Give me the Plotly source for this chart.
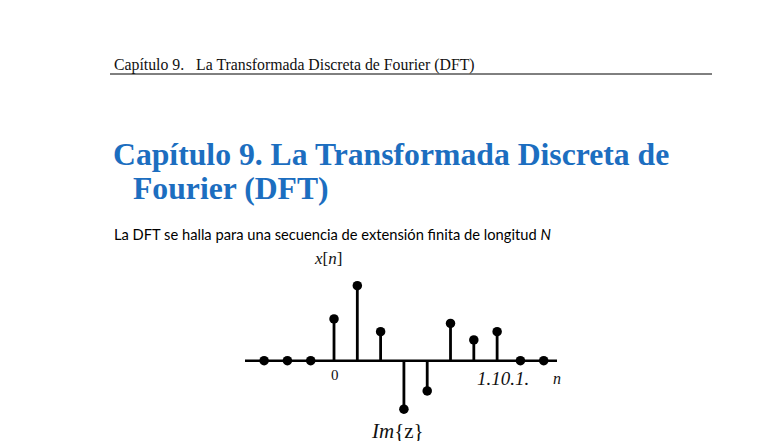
import plotly.graph_objects as go

# sequence x[n]
n_values = [-3, -2, -1, 0, 1, 2, 3, 4, 5, 6, 7, 8, 9]
x_values = [0, 0, 0, 1.67, 3.0, 1.16, -1.94, -1.21, 1.49, 0.83, 1.16, 0, 0]

header_text = "Capítulo 9.   La Transformada Discreta de Fourier (DFT)"
title_line1 = "Capítulo 9. La Transformada Discreta de"
title_line2 = "Fourier (DFT)"
body_text = "La DFT se halla para una secuencia de extensión finita de longitud <i>N</i>"

W, H = 784, 441
OFF = 8  # page body margin
BLUE = "#1C6EC0"


def px(x):
    return (x - OFF) / W


def py(y):
    return 1 - (y - OFF) / H


# stems from the library scale
stem_x, stem_y = [], []
for n, v in zip(n_values, x_values):
    if v != 0:
        stem_x += [n, n, None]
        stem_y += [0, v, None]

fig = go.Figure()
fig.add_trace(go.Scatter(x=[-3.82, 9.57], y=[0, 0], mode="lines",
                         line=dict(color="black", width=2.6), hoverinfo="skip"))
fig.add_trace(go.Scatter(x=stem_x, y=stem_y, mode="lines",
                         line=dict(color="black", width=2.8), hoverinfo="skip"))
fig.add_trace(go.Scatter(x=n_values, y=x_values, mode="markers",
                         marker=dict(color="black", size=9.5), cliponaxis=False))

fig.update_xaxes(range=[-3.82, 9.57], domain=[px(245), px(557)], visible=False)
fig.update_yaxes(range=[-2.172, 3.228], domain=[py(415), py(280)], visible=False)

serif = "Liberation Serif"
ann = [
    dict(text=header_text, x=px(112), y=py(65), xanchor="left",
         font=dict(family=serif, size=15.8, color="#111")),
    dict(text="<b>" + title_line1 + "</b>", x=px(111), y=py(155), xanchor="left",
         font=dict(family=serif, size=31.7, color=BLUE)),
    dict(text="<b>" + title_line2 + "</b>", x=px(131), y=py(189), xanchor="left",
         font=dict(family=serif, size=31.7, color=BLUE)),
    dict(text=body_text, x=px(112), y=py(234), xanchor="left",
         font=dict(family="Lato", size=14.7, color="#000")),
    dict(text="<i>x</i>[<i>n</i>]", x=px(328), y=py(258),
         font=dict(family=serif, size=17, color="#111")),
    dict(text="0", x=px(335), y=py(375),
         font=dict(family=serif, size=15, color="#111")),
    dict(text="<i>1.10.1.</i>", x=px(503), y=py(378),
         font=dict(family=serif, size=19, color="#111")),
    dict(text="<i>n</i>", x=px(557), y=py(378),
         font=dict(family=serif, size=16, color="#111")),
    dict(text="<i>Im</i>{z}", x=px(397), y=py(431),
         font=dict(family=serif, size=21, color="#111")),
]
for a in ann:
    a.update(xref="paper", yref="paper", showarrow=False, yanchor="middle")
    a.setdefault("xanchor", "center")
fig.update_layout(annotations=ann)

fig.add_shape(type="line", xref="paper", yref="paper",
              x0=px(110), x1=px(712), y0=py(74), y1=py(74),
              line=dict(color="black", width=1))

fig.update_layout(width=W, height=H, margin=dict(l=0, r=0, t=0, b=0),
                  showlegend=False, plot_bgcolor="white", paper_bgcolor="white")

fig.write_html("out.html")
